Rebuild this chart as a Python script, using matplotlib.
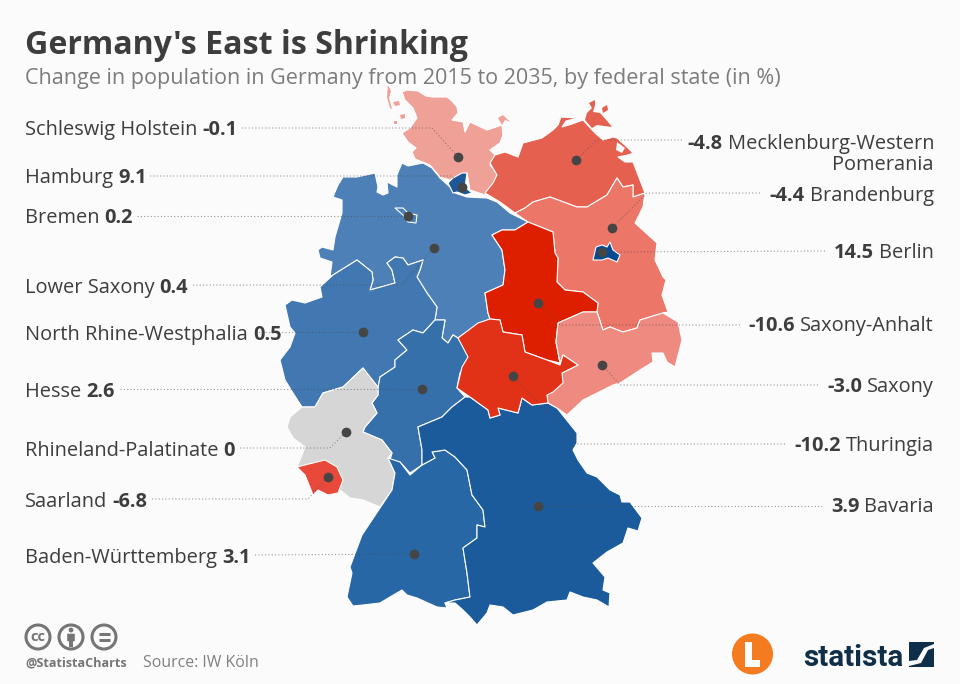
import matplotlib
matplotlib.use('Agg')
import matplotlib.pyplot as plt
from matplotlib.patches import Polygon, Circle, FancyBboxPatch

plt.rcParams['font.family'] = ['Open Sans', 'DejaVu Sans']

# map outlines (pixel units, y pointing down)
schleswig_holstein = [(402,92),(407,90),(418,91),(426,96),(433,97),(447,97),(452,101),(457,107),(458,113),(452,120),(463,122),(465,132),
                      (470,122),(487,130),(502,125),(503,135),(500,143),(490,150),(495,155),(490,165),(497,173),(498,177),(493,187),(485,195),
                      (470,190),(467,173),(450,180),(440,177),(430,165),(415,159),(412,152),(416,148),(408,142),(402,133),
                      (410,128),(417,118),(413,108),(405,100)]
sylt = [(388,85),(391,91),(389,98),(392,109),(390,108),(387,97)]
foehr = [(393,102),(399,101),(400,105),(395,106)]
amrum = [(400,115),(405,114),(405,118),(401,119)]
pellworm = [(394,121),(397,121),(397,124),(394,124)]
fehmarn = [(498,118),(503,115),(510,122),(505,120),(502,125)]
hamburg = [(448,183),(453,178),(462,173),(467,173),(466,180),(465,187),(472,193),(465,195),(457,192),(453,193)]
lower_saxony = [(333,197),(338,185),(343,177),(357,177),(375,173),(378,187),(377,192),(383,195),(388,193),(387,182),
                (397,187),(397,175),(402,163),(408,166),(423,163),(432,168),(440,178),(450,187),(455,193),(467,197),
                (487,198),(497,202),(510,213),(520,218),(528,222),(515,230),(502,230),(492,235),(502,250),(505,270),
                (503,285),(485,293),(488,313),(490,319),(480,323),(458,338),(453,335),(448,343),(442,338),(445,320),
                (435,320),(437,307),(427,293),(417,277),(420,270),(423,260),(408,265),(403,258),(395,257),(387,263),
                (392,270),(395,283),(370,290),(373,280),(372,272),(357,260),(333,275),(330,277),(332,262),(320,258),
                (318,250),(322,247),(333,250),(335,237),(342,213),(342,200)]
bremen = [(395,208),(403,208),(408,213),(417,215),(416,223),(408,222),(403,215)]
nrw = [(320,287),(333,275),(357,260),(372,272),(373,280),(370,290),(395,283),(392,270),(387,263),(395,257),(403,258),
       (408,265),(423,260),(420,270),(417,277),(427,293),(437,307),(435,320),(423,333),(413,330),(398,340),(407,350),
       (395,360),(395,367),(380,377),(378,388),(363,368),(343,387),(323,393),(315,407),(302,407),(293,393),(285,380),
       (280,360),(290,347),(295,333),(290,327),(285,305),(292,300),(305,303),(322,297)]
hesse = [(435,320),(445,320),(442,338),(448,343),(453,335),(458,338),(467,350),(470,358),(460,373),(457,388),(465,397),
         (452,407),(442,417),(418,427),(422,450),(422,465),(410,473),(400,462),(390,460),(392,453),(382,440),(363,432),
         (365,427),(377,413),(372,403),(378,395),(378,388),(380,377),(395,367),(395,360),(407,350),(398,340),(413,330),
         (423,333)]
rhineland = [(363,368),(378,387),(378,395),(372,403),(377,413),(365,427),(363,432),(382,440),(392,453),(388,458),
             (395,473),(392,490),(380,507),(363,500),(350,498),(340,490),(320,480),(297,467),(305,447),(293,438),
             (287,427),(290,417),(302,407),(315,407),(323,393),(343,387)]
saarland = [(297,467),(325,460),(337,467),(343,480),(338,493),(328,495),(318,490),(313,495),(305,475)]
baden = [(447,608),(437,607),(417,598),(407,595),(402,590),(390,597),(380,603),(363,605),(353,606),(347,597),(352,573),
         (350,567),(362,535),(380,508),(392,490),(395,473),(388,458),(400,462),(410,475),(422,465),(435,458),(432,452),
         (445,450),(455,457),(467,470),(472,495),(483,510),(485,527),(477,525),(477,538),(463,548),(467,573),(470,597),
         (455,600),(445,603)]
bavaria = [(557,408),(565,418),(577,433),(577,443),(573,450),(578,460),(587,473),(597,477),(610,490),(620,495),(622,502),
           (630,502),(642,518),(638,531),(628,528),(623,543),(607,552),(593,563),(605,577),(603,590),(610,593),(609,607),
           (597,600),(583,597),(570,592),(567,600),(547,602),(533,610),(513,615),(503,607),(490,605),(487,613),(477,625),
           (470,617),(463,610),(455,603),(445,603),(455,600),(470,597),(467,573),(463,548),(477,538),(477,525),(485,527),
           (483,510),(472,495),(467,470),(455,457),(445,450),(432,452),(435,458),(422,465),(422,450),(418,427),(442,417),
           (452,407),(465,397),(470,397),(488,410),(490,418),(500,415),(498,408),(518,413),(522,398),(532,405),(548,403)]
mecklenburg = [(485,193),(493,183),(497,175),(490,163),(495,155),(505,152),(518,157),(523,143),(542,138),(553,130),(558,125),
               (561,117),(578,118),(566,121),(562,127),(572,124),(583,120),(595,133),(603,140),(613,137),(617,138),(627,147),
               (633,153),(628,155),(618,157),(625,162),(633,162),(638,175),(645,193),(633,197),(633,185),(623,187),(617,178),
               (607,195),(587,207),(577,207),(550,197),(533,202),(525,208),(515,213),(500,202)]
ruegen = [(585,120),(587,113),(592,108),(589,103),(595,100),(595,105),(593,112),(600,113),(608,122),(612,127),(597,125),(592,128)]
ruden = [(602,108),(607,105),(608,110),(603,113)]
oder_lagoon = [(617,142),(625,148),(622,153),(616,150)]
brandenburg = [(525,208),(533,202),(550,197),(577,207),(587,207),(607,195),(617,178),(623,187),(633,185),(633,197),(645,193),
               (643,207),(635,223),(657,243),(655,260),(663,277),(666,280),(662,295),(668,312),(663,313),(640,320),(637,328),
               (623,332),(610,327),(603,330),(597,312),(598,303),(583,292),(565,290),(557,282),(558,258),(555,253),(553,232),
               (528,222),(515,213)]
berlin = [(593,260),(596,247),(602,245),(607,247),(610,242),(613,250),(620,255),(617,262),(608,258),(602,260)]
saxony_anhalt = [(528,222),(553,232),(555,253),(558,258),(557,282),(565,290),(583,292),(598,303),(597,312),(583,312),(558,323),
                 (556,342),(560,363),(547,360),(525,352),(522,335),(503,332),(500,320),(490,319),(488,313),(485,293),(503,285),
                 (505,270),(502,250),(492,235),(502,230),(515,230)]
saxony = [(558,323),(583,312),(597,312),(603,330),(610,327),(623,332),(637,328),(640,320),(663,313),(678,322),(682,340),(675,367),
          (667,362),(663,353),(652,353),(653,362),(640,370),(620,383),(613,385),(597,393),(583,400),(567,415),(557,408),(548,403),
          (547,395),(562,383),(562,373),(578,365),(563,355),(560,363),(556,342)]
thuringia = [(458,338),(478,323),(490,319),(500,320),(503,332),(522,335),(525,352),(547,360),(560,365),(563,355),(578,365),(562,373),
             (563,383),(553,392),(547,395),(548,403),(532,405),(522,398),(518,413),(498,408),(500,415),(490,418),(488,410),
             (470,397),(457,388),(462,367),(468,357)]

# labels and values
left_names = ['Schleswig Holstein', 'Hamburg', 'Bremen', 'Lower Saxony', 'North Rhine-Westphalia', 'Hesse',
              'Rhineland-Palatinate', 'Saarland', 'Baden-Württemberg']
left_values = ['-0.1', '9.1', '0.2', '0.4', '0.5', '2.6', '0', '-6.8', '3.1']
left_y = [128, 176, 216, 286, 333, 390, 449, 500, 556]
right_names = ['Mecklenburg-Western', 'Brandenburg', 'Berlin', 'Saxony-Anhalt', 'Saxony', 'Thuringia', 'Bavaria']
right_values = ['-4.8', '-4.4', '14.5', '-10.6', '-3.0', '-10.2', '3.9']
right_y = [142, 194, 251, 324, 385, 444, 505]

# leader lines: label side first, dot last
left_leaders = [[(242,128),(432,128),(458,157)],
                [(150,176),(452,176),(462,187)],
                [(137,216),(408,216)],
                [(193,285),(402,285),(434,248)],
                [(255,332),(363,332)],
                [(120,389),(422,389)],
                [(240,448),(330,448),(346,432)],
                [(152,499),(308,499),(328,477)],
                [(255,555),(414,554)]]
right_leaders = [[(682,140),(597,140),(576,160)],
                 [(760,193),(647,193),(612,228)],
                 [(825,251),(602,252)],
                 [(740,325),(560,325),(538,303)],
                 [(818,385),(620,385),(602,365)],
                 [(785,444),(578,444),(513,376)],
                 [(822,506),(538,506)]]

BG = '#fbfbfb'
TXT = '#3d3d3d'

fig = plt.figure(figsize=(9.6, 6.84), dpi=100, facecolor=BG)
ax = fig.add_axes([0, 0, 1, 1])
ax.set_xlim(0, 960)
ax.set_ylim(684, 0)
ax.axis('off')

# states, back to front
shapes = [(lower_saxony, '#4c80b6'), (bremen, '#4c80b6'), (nrw, '#4178b2'), (hesse, '#3670ab'), (rhineland, '#d6d6d6'),
          (saarland, '#e8493a'), (baden, '#2867a5'), (bavaria, '#1c5b9b'),
          (schleswig_holstein, '#f0a197'), (hamburg, '#1e5797'), (mecklenburg, '#e5604e'),
          (brandenburg, '#ec7668'), (berlin, '#054a91'), (saxony_anhalt, '#dd1f00'),
          (saxony, '#ee8a80'), (thuringia, '#e13218')]
islands = [(sylt, '#f0a197'), (foehr, '#f0a197'), (amrum, '#f0a197'), (pellworm, '#f0a197'), (fehmarn, '#f0a197'),
           (ruegen, '#e5604e'), (ruden, '#e5604e')]
for outline, col in shapes:
    ax.add_patch(Polygon(outline, closed=True, facecolor=col, edgecolor='white', linewidth=0.8, joinstyle='round', zorder=2))
for outline, col in islands:
    ax.add_patch(Polygon(outline, closed=True, facecolor=col, edgecolor='none', zorder=2))
ax.add_patch(Polygon(oder_lagoon, closed=True, facecolor=BG, edgecolor='none', zorder=3))

# leaders and dots
for pts in left_leaders + right_leaders:
    xs = [p[0] for p in pts]
    ys = [p[1] for p in pts]
    ax.plot(xs, ys, color='#4a4a4a', lw=0.8, ls=(0, (1, 2)), alpha=0.55, zorder=4)
    ax.plot(xs[-1], ys[-1], 'o', color='#454545', ms=7, mec='none', zorder=5)

ax.text(25, 54, "Germany's East is Shrinking", fontsize=23.1, fontweight='bold', color=TXT, va='baseline')
ax.text(25, 84, 'Change in population in Germany from 2015 to 2035, by federal state (in %)',
        fontsize=15.5, color='#7c7c7c', va='baseline')

rend = fig.canvas.get_renderer()
LABEL_SIZE = 14.4
inv = ax.transData.inverted()

def text_width(t):
    bb = t.get_window_extent(rend)
    return inv.transform((bb.x1, 0))[0] - inv.transform((bb.x0, 0))[0]

for name, val, yc in zip(left_names, left_values, left_y):
    t = ax.text(25, yc + 7, name, fontsize=LABEL_SIZE, color=TXT, va='baseline')
    ax.text(25 + text_width(t) + 5, yc + 7, val, fontsize=LABEL_SIZE, fontweight='bold', color=TXT, va='baseline')

for name, val, yc in zip(right_names, right_values, right_y):
    t = ax.text(934, yc + 7, name, fontsize=LABEL_SIZE, color=TXT, va='baseline', ha='right')
    ax.text(934 - text_width(t) - 5, yc + 7, val, fontsize=LABEL_SIZE, fontweight='bold', color=TXT, va='baseline', ha='right')
ax.text(934, 170, 'Pomerania', fontsize=LABEL_SIZE, color=TXT, va='baseline', ha='right')

# licence icons
GREY = '#757575'
for cx in [38, 71, 104]:
    ax.add_patch(Circle((cx, 637), 12, facecolor='none', edgecolor=GREY, lw=2.2))
ax.text(38, 637, 'cc', fontsize=10.5, fontweight='bold', color=GREY, ha='center', va='center')
ax.add_patch(Circle((71, 630), 2.4, facecolor=GREY, edgecolor='none'))
ax.add_patch(FancyBboxPatch((67.5, 634), 7, 7, boxstyle='round,pad=0.3', facecolor=GREY, edgecolor='none'))
ax.add_patch(Polygon([(69, 640), (73, 640), (73, 647), (69, 647)], facecolor=GREY, edgecolor='none'))
ax.plot([98.5, 109.5], [634, 634], color=GREY, lw=2.2, solid_capstyle='butt')
ax.plot([98.5, 109.5], [640, 640], color=GREY, lw=2.2, solid_capstyle='butt')

ax.text(25, 667, '@StatistaCharts', fontsize=9.1, fontweight='bold', color=GREY, va='baseline')
ax.text(143, 667, 'Source: IW Köln', fontsize=11.4, color='#808080', va='baseline')

# logos
ax.add_patch(Circle((752.5, 654), 20.5, facecolor='#f47b20', edgecolor='none'))
ax.add_patch(Polygon([(745, 642), (752, 642), (752, 660), (760, 660), (760, 667), (745, 667)], facecolor='white', edgecolor='none'))
ax.text(803, 666, 'statista', fontsize=21.3, fontweight='bold', color='#0f2e48', va='baseline', family=['Roboto', 'DejaVu Sans'])
ax.add_patch(Polygon([(909, 642), (934, 642), (934, 667), (909, 667)], facecolor='#0f2e48', edgecolor='none'))
ax.add_patch(Polygon([(909, 661), (917, 660), (924, 648), (934, 644), (934, 648), (928, 650), (921, 663), (909, 666)],
                     facecolor=BG, edgecolor='none'))

fig.savefig('out.png', dpi=100, facecolor=BG)
